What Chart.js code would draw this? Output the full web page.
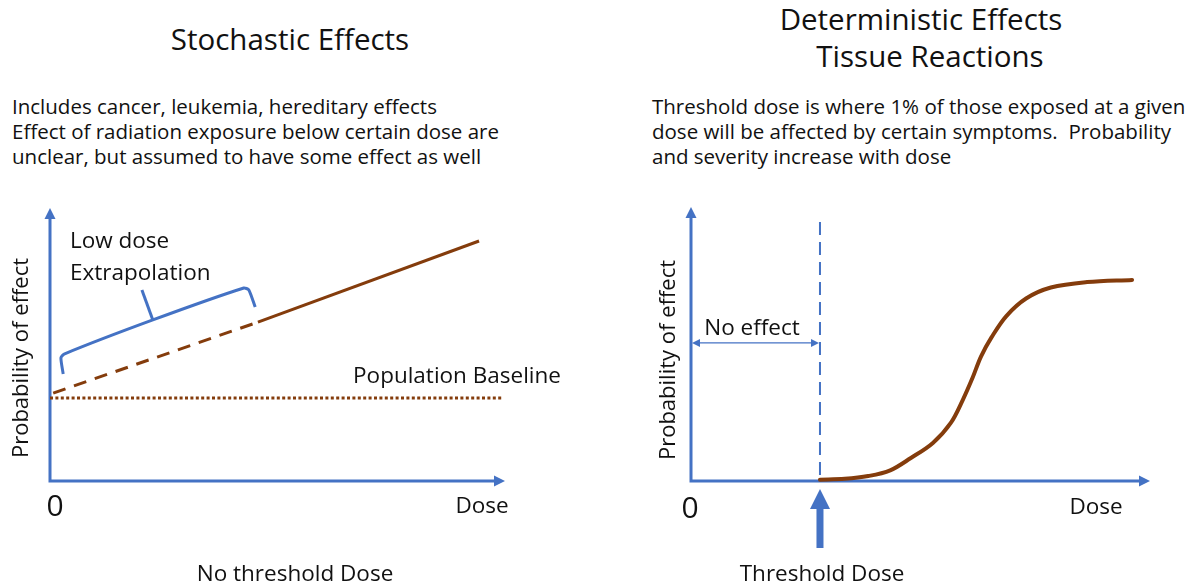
<!DOCTYPE html>
<html>
<head>
<meta charset="utf-8">
<script src="https://cdn.jsdelivr.net/npm/chart.js@4.4.1/dist/chart.umd.min.js"></script>
<style>
  body { margin: 0; width: 1200px; height: 585px; background: #fff; overflow: hidden; position: relative;
         font-family: "Open Sans", Lato, sans-serif; font-weight: 400; color: #111; }
  .t { position: absolute; white-space: nowrap; line-height: 1; }
  .c { transform: translate(-50%, -50%); }
  .l { transform: translateY(-50%); }
  .rot { transform: translate(-50%, -50%) rotate(-90deg); }
  canvas { position: absolute; top: 190px; }
</style>
</head>
<body>
<div class="t c" style="left:290px;top:39px;font-size:29.5px">Stochastic Effects</div>
<div class="t l" style="left:12px;top:106px;font-size:20.5px">Includes cancer, leukemia, hereditary effects</div>
<div class="t l" style="left:12px;top:131px;font-size:20.5px">Effect of radiation exposure below certain dose are</div>
<div class="t l" style="left:12px;top:156px;font-size:20.5px">unclear, but assumed to have some effect as well</div>

<div class="t c" style="left:921px;top:19px;font-size:29.5px">Deterministic Effects</div>
<div class="t c" style="left:930px;top:56px;font-size:29.5px">Tissue Reactions</div>
<div class="t l" style="left:652px;top:106px;font-size:20.5px">Threshold dose is where 1% of those exposed at a given</div>
<div class="t l" style="left:652px;top:131px;font-size:20.5px">dose will be affected by certain symptoms.&nbsp; Probability</div>
<div class="t l" style="left:652px;top:156px;font-size:20.5px">and severity increase with dose</div>

<canvas id="left" width="600" height="395" style="left:0px;width:600px;height:395px"></canvas>
<canvas id="right" width="600" height="395" style="left:600px;width:600px;height:395px"></canvas>

<div class="t rot" style="left:19px;top:358px;font-size:22px">Probability of effect</div>
<div class="t rot" style="left:666px;top:360px;font-size:22px">Probability of effect</div>
<div class="t c" style="left:55px;top:505px;font-size:30px">0</div>
<div class="t c" style="left:690px;top:507px;font-size:30px">0</div>
<div class="t c" style="left:482px;top:505px;font-size:22.5px">Dose</div>
<div class="t c" style="left:1096px;top:506px;font-size:22.5px">Dose</div>
<div class="t c" style="left:295px;top:573px;font-size:22.5px">No threshold Dose</div>
<div class="t c" style="left:822px;top:573px;font-size:22.5px">Threshold Dose</div>
<div class="t l" style="left:70px;top:240px;font-size:22.5px">Low dose</div>
<div class="t l" style="left:70px;top:272px;font-size:22.5px">Extrapolation</div>
<div class="t c" style="left:457px;top:375px;font-size:22.5px">Population Baseline</div>
<div class="t c" style="left:752px;top:327px;font-size:22.5px">No effect</div>

<script>
// Stochastic: linear no-threshold line (dashed part is the extrapolation)
const stochDose = [0.7, 45.7, 94.3];
const stochProb = [32.2, 58.2, 87.9];
const baselineDose = [0, 99.3];
const baselineProb = [30.4, 30.4];
// brace over the low dose part
const braceDose = [2.9, 2.4, 3.1, 22.6, 42.6, 43.7, 45.1];
const braceProb = [39.2, 45.1, 46.5, 59.0, 70.7, 70.0, 63.7];
const stemDose = [22.6, 20.2];
const stemProb = [59.0, 70.0];

// Deterministic: sigmoid above the threshold
const detDose = [28.1, 33.5, 38.6, 43.4, 47.9, 52.7, 56.6, 59.3, 61.3, 63.2, 65.5, 68.7, 73.0, 78.4, 86.3, 96.1];
const detProb = [0.5, 0.8, 1.8, 3.9, 8.4, 13.9, 21.2, 29.9, 37.5, 45.5, 52.5, 60.2, 66.6, 70.6, 72.6, 73.4];
const thresholdDose = 28.1;
const thresholdTop = 94.5;
const noEffectProb = 50.4;

const BLUE = '#4472C4';
const BROWN = '#843C0C';

const pts = (xs, ys) => xs.map((x, i) => ({ x: x, y: ys[i] }));

function arrowHead(ctx, x, y, dir, len, half) {
    ctx.beginPath();
    if (dir === 'up') {
        ctx.moveTo(x, y); ctx.lineTo(x - half, y + len); ctx.lineTo(x + half, y + len);
    } else if (dir === 'right') {
        ctx.moveTo(x, y); ctx.lineTo(x - len, y - half); ctx.lineTo(x - len, y + half);
    } else {
        ctx.moveTo(x, y); ctx.lineTo(x + len, y - half); ctx.lineTo(x + len, y + half);
    }
    ctx.closePath();
    ctx.fill();
}

// blue axes with arrow heads, drawn under the data
const axesPlugin = {
    id: 'axes',
    beforeDatasetsDraw(chart) {
        const ctx = chart.ctx;
        const xs = chart.scales.x, ys = chart.scales.y;
        const x0 = xs.getPixelForValue(0), x1 = xs.getPixelForValue(100);
        const y0 = ys.getPixelForValue(0), y1 = ys.getPixelForValue(100);
        ctx.save();
        ctx.strokeStyle = BLUE;
        ctx.fillStyle = BLUE;
        ctx.lineWidth = 3;
        ctx.beginPath();
        ctx.moveTo(x0, y1 + 8);
        ctx.lineTo(x0, y0);
        ctx.lineTo(x1 - 8, y0);
        ctx.stroke();
        arrowHead(ctx, x0, y1, 'up', 11, 5.5);
        arrowHead(ctx, x1, y0, 'right', 11, 5.5);
        ctx.restore();
    }
};

// extra marks on the right chart: "no effect" span and threshold arrow
const thresholdPlugin = {
    id: 'threshold',
    afterDatasetsDraw(chart) {
        const ctx = chart.ctx;
        const xs = chart.scales.x, ys = chart.scales.y;
        const x0 = xs.getPixelForValue(0), xt = xs.getPixelForValue(thresholdDose);
        const yn = ys.getPixelForValue(noEffectProb), yb = ys.getPixelForValue(0);
        ctx.save();
        ctx.strokeStyle = BLUE;
        ctx.fillStyle = BLUE;
        ctx.lineWidth = 1.3;
        ctx.beginPath();
        ctx.moveTo(x0 + 6, yn);
        ctx.lineTo(xt - 6, yn);
        ctx.stroke();
        arrowHead(ctx, x0 + 1, yn, 'left', 8, 4);
        arrowHead(ctx, xt - 1, yn, 'right', 8, 4);
        // block arrow pointing up at the threshold
        arrowHead(ctx, xt, yb + 8, 'up', 20, 10);
        ctx.fillRect(xt - 3.5, yb + 27, 7, 40);
        ctx.restore();
    }
};

const baseOptions = (pad) => ({
    responsive: false,
    animation: false,
    layout: { padding: pad },
    plugins: { legend: { display: false }, tooltip: { enabled: false } },
    elements: { point: { radius: 0 } },
    scales: {
        x: { type: 'linear', min: 0, max: 100, display: false },
        y: { type: 'linear', min: 0, max: 100, display: false }
    }
});

new Chart(document.getElementById('left'), {
    type: 'line',
    data: {
        datasets: [
            { data: pts(baselineDose, baselineProb), borderColor: BROWN, borderWidth: 3, borderDash: [3, 2.4], clip: false },
            { data: pts(stochDose.slice(0, 2), stochProb.slice(0, 2)), borderColor: BROWN, borderWidth: 3, borderDash: [13, 9], clip: false },
            { data: pts(stochDose.slice(1), stochProb.slice(1)), borderColor: BROWN, borderWidth: 3, clip: false },
            { data: pts(braceDose, braceProb), borderColor: BLUE, borderWidth: 3, tension: 0.2, borderJoinStyle: 'round', clip: false },
            { data: pts(stemDose, stemProb), borderColor: BLUE, borderWidth: 3, clip: false }
        ]
    },
    options: baseOptions({ left: 50, right: 95, top: 18, bottom: 104 }),
    plugins: [axesPlugin]
});

new Chart(document.getElementById('right'), {
    type: 'line',
    data: {
        datasets: [
            { data: pts([thresholdDose, thresholdDose], [thresholdTop, 0]), borderColor: BLUE, borderWidth: 2, borderDash: [13, 7], clip: false },
            { data: pts(detDose, detProb), borderColor: BROWN, borderWidth: 4, tension: 0.35, borderCapStyle: 'round', clip: false }
        ]
    },
    options: baseOptions({ left: 91, right: 50, top: 17, bottom: 104 }),
    plugins: [axesPlugin, thresholdPlugin]
});
</script>
</body>
</html>
